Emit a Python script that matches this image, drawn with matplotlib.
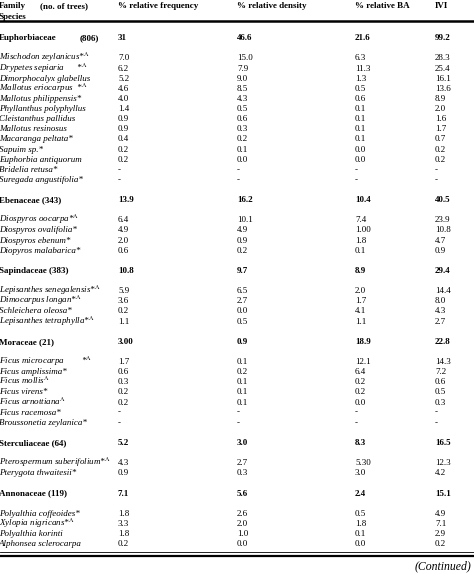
import matplotlib
matplotlib.use("Agg")
import matplotlib.pyplot as plt

plt.rcParams['font.family'] = ['Liberation Serif', 'DejaVu Serif']
plt.rcParams['mathtext.fontset'] = 'stix'

headers = ["% relative frequency", "% relative density", "% relative BA", "IVI"]
families = ["Euphorbiaceae", "Ebenaceae", "Sapindaceae", "Moraceae", "Sterculiaceae", "Annonaceae"]
family_trees = ["(806)", "(343)", "(383)", "(21)", "(64)", "(119)"]
family_vals = [["31", "46.6", "21.6", "99.2"],
               ["13.9", "16.2", "10.4", "40.5"],
               ["10.8", "9.7", "8.9", "29.4"],
               ["3.00", "0.9", "18.9", "22.8"],
               ["5.2", "3.0", "8.3", "16.5"],
               ["7.1", "5.6", "2.4", "15.1"]]
L = r"$^{\Lambda}$"
species = [
    ["Mischodon zeylanicus*" + L, "Drypetes sepiaria      *" + L, "Dimorphocalyx glabellus",
     "Mallotus eriocarpus  *" + L, "Mallotus philippensis*", "Phyllanthus polyphyllus",
     "Cleistanthus pallidus", "Mallotus resinosus", "Macaranga peltata*", "Sapuim sp.*",
     "Euphorbia antiquorum", "Bridelia retusa*", "Suregada angustifolia*"],
    ["Diospyros oocarpa*" + L, "Diospyros ovalifolia*", "Diospyros ebenum*", "Diopyros malabarica*"],
    ["Lepisanthes senegalensis*" + L, "Dimocarpus longan*" + L, "Schleichera oleosa*",
     "Lepisanthes tetraphylla*" + L],
    ["Ficus microcarpa        *" + L, "Ficus amplissima*", "Ficus mollis" + L, "Ficus virens*",
     "Ficus arnottiana" + L, "Ficus racemosa*", "Broussonetia zeylanica*"],
    ["Pterospermum suberifolium*" + L, "Pterygota thwaitesii*"],
    ["Polyalthia coffeoides*", "Xylopia nigricans*" + L, "Polyalthia korinti", "Alphonsea sclerocarpa"],
]
species_vals = [
    [["7.0", "15.0", "6.3", "28.3"], ["6.2", "7.9", "11.3", "25.4"], ["5.2", "9.0", "1.3", "16.1"],
     ["4.6", "8.5", "0.5", "13.6"], ["4.0", "4.3", "0.6", "8.9"], ["1.4", "0.5", "0.1", "2.0"],
     ["0.9", "0.6", "0.1", "1.6"], ["0.9", "0.3", "0.1", "1.7"], ["0.4", "0.2", "0.1", "0.7"],
     ["0.2", "0.1", "0.0", "0.2"], ["0.2", "0.0", "0.0", "0.2"], ["-", "-", "-", "-"],
     ["-", "-", "-", "-"]],
    [["6.4", "10.1", "7.4", "23.9"], ["4.9", "4.9", "1.00", "10.8"], ["2.0", "0.9", "1.8", "4.7"],
     ["0.6", "0.2", "0.1", "0.9"]],
    [["5.9", "6.5", "2.0", "14.4"], ["3.6", "2.7", "1.7", "8.0"], ["0.2", "0.0", "4.1", "4.3"],
     ["1.1", "0.5", "1.1", "2.7"]],
    [["1.7", "0.1", "12.1", "14.3"], ["0.6", "0.2", "6.4", "7.2"], ["0.3", "0.1", "0.2", "0.6"],
     ["0.2", "0.1", "0.2", "0.5"], ["0.2", "0.1", "0.0", "0.3"], ["-", "-", "-", "-"],
     ["-", "-", "-", "-"]],
    [["4.3", "2.7", "5.30", "12.3"], ["0.9", "0.3", "3.0", "4.2"]],
    [["1.8", "2.6", "0.5", "4.9"], ["3.3", "2.0", "1.8", "7.1"], ["1.8", "1.0", "0.1", "2.9"],
     ["0.2", "0.0", "0.0", "0.2"]],
]

W, H = 474, 574
fig = plt.figure(figsize=(W / 100, H / 100), dpi=100)
ax = fig.add_axes([0, 0, 1, 1])
ax.set_xlim(0, W)
ax.set_ylim(H, 0)
ax.axis('off')

fs = 6.5
colx = [118, 237, 355, 435]
dy = 3.2  # baseline offset from row centre


def put(x, y, s, **kw):
    ax.text(x, y + dy, s, fontsize=fs, va='baseline', **kw)


put(-1, 5, "Family", fontweight='bold')
put(40, 5, "(no. of trees)", fontweight='bold')
put(-1, 16, "Species", fontweight='bold')
for x, h in zip(colx, headers):
    put(x, 5, h, fontweight='bold')

ax.plot([0, W], [20.5, 20.5], color='black', lw=1.8)
ax.plot([0, W], [552, 552], color='black', lw=0.6)
ax.plot([0, W], [555.5, 555.5], color='black', lw=1.6)
ax.text(471, 566, "(Continued)", fontsize=8.5, style='italic', ha='right', va='center')

step = 10.12
row = 0
for i, fam in enumerate(families):
    y = 37 + row * step
    if i == 0:
        put(-1, y, fam, fontweight='bold')
        put(80, y, family_trees[i], fontweight='bold')
    else:
        put(-1, y, fam + " " + family_trees[i], fontweight='bold')
    for x, v in zip(colx, family_vals[i]):
        put(x, y, v, fontweight='bold')
    row += 2
    for sp, vals in zip(species[i], species_vals[i]):
        y = 37 + row * step
        put(-1, y, sp, style='italic')
        for x, v in zip(colx, vals):
            put(x, y, v)
        row += 1
    row += 1

fig.savefig("out.png", dpi=100)
